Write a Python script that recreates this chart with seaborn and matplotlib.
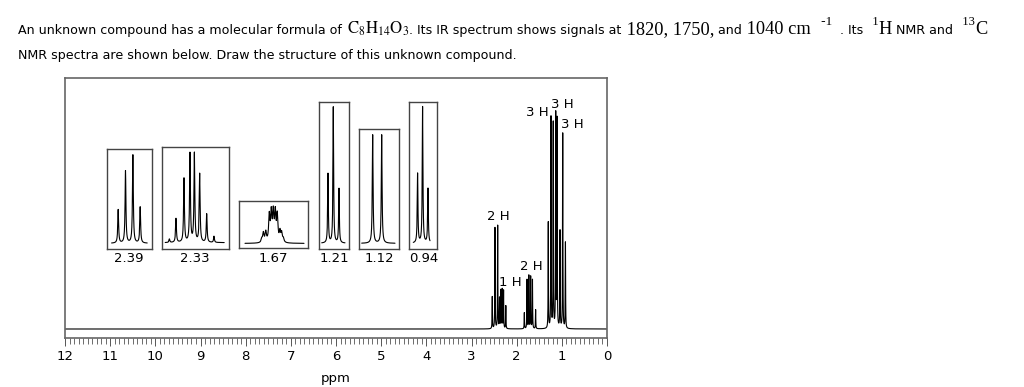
import numpy as np
import pandas as pd
import matplotlib
matplotlib.use("Agg")
import matplotlib.pyplot as plt
from matplotlib.ticker import MultipleLocator
from matplotlib.transforms import IdentityTransform
import seaborn as sns

# peak list (ppm, intensity above baseline)
main_ppm = [2.54, 2.48, 2.42, 2.38, 2.35, 2.32, 2.29, 2.24,
            1.83, 1.77, 1.73, 1.69, 1.65, 1.58,
            1.30, 1.24, 1.19, 1.135, 1.105, 1.04, 0.98, 0.92]
main_height = [32, 101, 103, 30, 38, 39, 38, 23,
               16, 49, 53, 52, 49, 19,
               106, 211, 205, 213, 208, 97, 195, 86]

# integration labels
integ_text = ["2 H", "1 H", "2 H", "3 H", "3 H", "3 H"]
integ_ppm = [2.41, 2.15, 1.68, 1.54, 1.00, 0.77]
integ_y = [112, 47, 63, 216, 224, 205]

# expanded multiplets (line offsets in Hz, relative heights)
inset_names = ["2.39", "2.33", "1.67", "1.21", "1.12", "0.94"]
inset_pos = [
    [11.0, 3.7, -3.7, -11.0],
    [25.8, 19.2, 11.2, 5.2, 0.8, -4.5, -11.5, -18.8],
    [12.0, 10.4, 8.0, 4.5, 2.5, 0.5, -1.5, -3.5, -6.2, -7.9, -9.6],
    [6.0, 0.7, -5.0],
    [6.3, -2.7],
    [5.7, 0.7, -4.7],
]
inset_height = [
    [0.38, 0.82, 1.0, 0.41],
    [0.04, 0.27, 0.72, 1.0, 1.0, 0.77, 0.32, 0.07],
    [0.10, 0.26, 0.28, 0.72, 0.78, 0.78, 0.78, 0.72, 0.28, 0.25, 0.10],
    [0.51, 1.0, 0.40],
    [1.0, 1.0],
    [0.51, 1.0, 0.40],
]
inset_range = [(17.6, -18.0), (30.0, -29.0), (28.8, -30.2),
               (12.3, -11.0), (17.3, -16.0), (10.0, -6.7)]

# layout of the inset boxes in pixels (x0, y0, x1, y1), plus fill fractions
inset_box = [(106.7, 149.3, 151.7, 249), (161.7, 147.3, 228.7, 249),
             (239.3, 200.7, 308.3, 248), (318.7, 102, 349.3, 249),
             (359.3, 129.3, 398.7, 249), (409.3, 101.7, 437.3, 249)]
inset_fill = [(0.057, 0.946), (0.062, 0.954), (0.096, 0.89),
              (0.039, 0.968), (0.047, 0.955), (0.039, 0.968)]
inset_gamma = [0.5, 0.5, 0.75, 0.4, 0.45, 0.4]

W, H = 1024, 387

sns.set_style("white")
plt.rcParams["font.family"] = ["DejaVu Sans"]
plt.rcParams["mathtext.fontset"] = "stix"
plt.rcParams["text.color"] = "black"
plt.rcParams["xtick.labelcolor"] = "black"
plt.rcParams["axes.labelcolor"] = "black"


def lorentz(x, pos, height, gamma):
    y = np.zeros_like(x)
    for p, h in zip(pos, height):
        y += h * gamma ** 2 / ((x - p) ** 2 + gamma ** 2)
    return y


fig = plt.figure(figsize=(W / 100, H / 100), dpi=100)


def px_axes(x0, y0, x1, y1):
    return fig.add_axes([x0 / W, 1 - y1 / H, (x1 - x0) / W, (y1 - y0) / H])


# main spectrum
ax = px_axes(65, 78, 607, 338)
x = np.linspace(0, 12, 40001)
spec = pd.DataFrame({"ppm": x, "intensity": lorentz(x, main_ppm, main_height, 0.004)})
sns.lineplot(data=spec, x="ppm", y="intensity", ax=ax, color="black", lw=0.8,
             estimator=None, sort=False)
ax.set_xlim(12, 0)
ax.set_ylim(-9, 251)
ax.set_yticks([])
ax.set_ylabel("")
ax.set_xticks(range(0, 13))
ax.xaxis.set_minor_locator(MultipleLocator(0.1))
ax.tick_params(axis="x", which="major", length=6, width=0.7, color="#555555",
               labelsize=9.5, pad=3, bottom=True)
ax.tick_params(axis="x", which="minor", length=4, width=0.6, color="#555555", bottom=True)
ax.set_xlabel("ppm", fontsize=9.5, labelpad=6)
for s in ax.spines.values():
    s.set_color("#666666")
    s.set_linewidth(1.2)

for t, p, yy in zip(integ_text, integ_ppm, integ_y):
    ax.text(p, yy, t, fontsize=9.5, ha="center", va="center")

# expanded multiplets
for i, name in enumerate(inset_names):
    x0, y0, x1, y1 = inset_box[i]
    ai = px_axes(x0, y0, x1, y1)
    span = x1 - x0
    hi, lo = inset_range[i]
    xs = np.linspace(lo, hi, 2000)
    ys = lorentz(xs, inset_pos[i], inset_height[i], inset_gamma[i])
    sns.lineplot(x=xs, y=ys, ax=ai, color="black", lw=0.8, estimator=None, sort=False)
    m = ys.max()
    fb, ft = inset_fill[i]
    ai.set_ylim(-fb / (ft - fb) * m, (1 - fb) / (ft - fb) * m)
    ai.set_xlim(span / 2, -span / 2)
    ai.set_xticks([])
    ai.set_yticks([])
    for s in ai.spines.values():
        s.set_color("#444444")
        s.set_linewidth(1.0)
    fig.text((x0 + x1) / 2 / W, 1 - 259 / H, name, fontsize=9.5, ha="center", va="center")


# question text: sans body, serif formula/numbers, raised superscripts
SERIF = "Liberation Serif"


def write_pieces(x, y, pieces):
    r = fig.canvas.get_renderer()
    for s, size, dy, fam in pieces:
        kw = {"family": fam} if fam else {}
        t = fig.text(x, H - y + dy, s, fontsize=size, transform=IdentityTransform(),
                     ha="left", va="baseline", **kw)
        x = t.get_window_extent(r).x1


write_pieces(18, 34, [
    ("An unknown compound has a molecular formula of", 9.1, 0, None),
    (" $\\mathrm{C_8H_{14}O_3}$", 12, 0, None),
    (". Its IR spectrum shows signals at", 9.1, 0, None),
    (" 1820, 1750,", 13.2, 0, SERIF),
    (" and", 9.1, 0, None),
    (" 1040 cm", 13.2, 0, SERIF),
    ("   -1", 9.5, 9, SERIF),
    ("  . Its", 9.1, 0, None),
    ("   1", 9, 9, SERIF),
    ("H", 13.2, 0, SERIF),
    (" NMR and", 9.1, 0, None),
    ("   13", 9, 9, SERIF),
    ("C", 13.2, 0, SERIF),
])
write_pieces(18, 59, [
    ("NMR spectra are shown below. Draw the structure of this unknown compound.", 9.1, 0, None),
])

fig.savefig("out.png", dpi=100)
